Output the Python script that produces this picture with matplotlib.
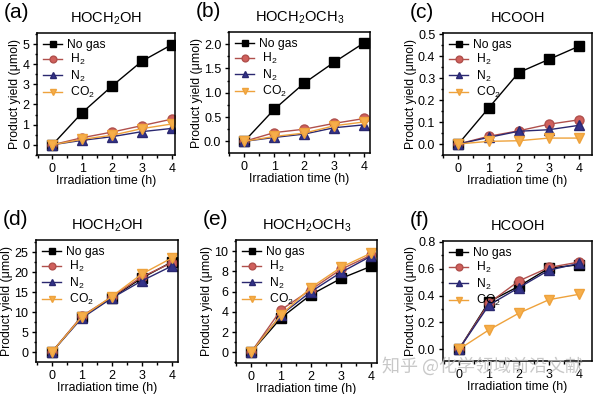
import numpy as np
import matplotlib.pyplot as plt
from matplotlib.ticker import AutoMinorLocator

plt.rcParams['font.family'] = ['Liberation Sans', 'DejaVu Sans']
plt.rcParams['mathtext.fontset'] = 'custom'
plt.rcParams['mathtext.rm'] = 'Liberation Sans'

# Irradiation time (h)
hours = [0, 1, 2, 3, 4]
gases = ['No gas', ' H$_2$', ' N$_2$', ' CO$_2$']

# (a) HOCH2OH
a_nogas = [0, 1.60, 2.92, 4.15, 4.97]
a_h2 = [0, 0.35, 0.63, 0.95, 1.27]
a_n2 = [0, 0.22, 0.40, 0.65, 0.81]
a_co2 = [0, 0.27, 0.47, 0.80, 1.03]

# (b) HOCH2OCH3
b_nogas = [0, 0.66, 1.20, 1.63, 2.03]
b_h2 = [0, 0.18, 0.25, 0.37, 0.47]
b_n2 = [0, 0.08, 0.15, 0.28, 0.34]
b_co2 = [0, 0.10, 0.17, 0.32, 0.40]

# (c) HCOOH
c_nogas = [0, 0.163, 0.325, 0.385, 0.445]
c_h2 = [0, 0.035, 0.060, 0.090, 0.110]
c_n2 = [0, 0.030, 0.058, 0.065, 0.085]
c_co2 = [0, 0.012, 0.015, 0.027, 0.027]

# (d) HOCH2OH
d_nogas = [0, 8.8, 13.6, 18.5, 22.5]
d_h2 = [0, 9.0, 13.8, 18.8, 22.3]
d_n2 = [0, 8.5, 13.5, 17.8, 21.5]
d_co2 = [0, 8.8, 13.9, 19.5, 23.5]

# (e) HOCH2OCH3
e_nogas = [0, 3.4, 5.7, 7.3, 8.5]
e_h2 = [0, 4.2, 6.2, 8.2, 9.6]
e_n2 = [0, 3.7, 6.0, 7.9, 9.5]
e_co2 = [0, 3.7, 6.4, 8.4, 9.8]

# (f) HCOOH
f_nogas = [0, 0.355, 0.470, 0.605, 0.630]
f_h2 = [0, 0.345, 0.510, 0.610, 0.650]
f_n2 = [0, 0.330, 0.460, 0.590, 0.640]
f_co2 = [0, 0.145, 0.270, 0.370, 0.410]

panel_labels = ['(a)', '(b)', '(c)', '(d)', '(e)', '(f)']
titles = ['HOCH$_2$OH', 'HOCH$_2$OCH$_3$', 'HCOOH',
          'HOCH$_2$OH', 'HOCH$_2$OCH$_3$', 'HCOOH']
series = [
    [a_nogas, a_h2, a_n2, a_co2],
    [b_nogas, b_h2, b_n2, b_co2],
    [c_nogas, c_h2, c_n2, c_co2],
    [d_nogas, d_h2, d_n2, d_co2],
    [e_nogas, e_h2, e_n2, e_co2],
    [f_nogas, f_h2, f_n2, f_co2],
]

# axes placement in pixels: left, top, right, bottom
boxes = [(37, 33, 175, 155), (229, 32, 370, 153), (443, 33, 592, 155),
         (36, 240, 178, 362), (236, 240, 377, 363), (443, 241, 592, 361)]
xlims = [(-0.52, 4.11), (-0.51, 4.19), (-0.51, 4.43),
         (-0.52, 4.21), (-0.50, 4.20), (-0.53, 4.43)]
ylims = [(-0.51, 5.55), (-0.24, 2.25), (-0.05, 0.505),
         (-2.4, 28.0), (-1.05, 11.1), (-0.087, 0.807)]
yticks = [np.arange(0, 5.1, 1), np.arange(0, 2.01, 0.5), np.arange(0, 0.51, 0.1),
          np.arange(0, 26, 5), np.arange(0, 11, 2), np.arange(0, 0.81, 0.2)]
yfmt = ['%d', '%.1f', '%.1f', '%d', '%d', '%.1f']

markers = ['s', 'o', '^', 'v']
line_colors = ['black', '#b0504c', '#2a2870', '#eea23c']
face_colors = ['black', '#d0605c', '#34338a', '#f6ae4a']

W, H = 600, 394
fig = plt.figure(figsize=(6, 3.94), dpi=100)

for i in range(6):
    l, t, r, b = boxes[i]
    ax = fig.add_axes([l / W, (H - b) / H, (r - l) / W, (b - t) / H])
    for k in range(4):
        ax.plot(hours, series[i][k], marker=markers[k], color=line_colors[k],
                mfc=face_colors[k], mec=line_colors[k], ms=6.5, lw=1.0,
                label=gases[k])
    ax.set_xlim(*xlims[i])
    ax.set_ylim(*ylims[i])
    ax.set_xticks(hours)
    ax.set_yticks(yticks[i])
    ax.set_yticklabels([yfmt[i] % v for v in yticks[i]])
    ax.xaxis.set_minor_locator(AutoMinorLocator(2))
    ax.yaxis.set_minor_locator(AutoMinorLocator(2))
    ax.tick_params(which='both', direction='out', labelsize=9, width=1)
    ax.tick_params(which='major', length=3, pad=2.5)
    ax.tick_params(which='minor', length=1.8)
    for s in ax.spines.values():
        s.set_linewidth(1.1)
    ax.set_xlabel('Irradiation time (h)', fontsize=8.8, labelpad=0)
    ax.set_ylabel('Product yield (\u03bcmol)', fontsize=8.8, labelpad=1)
    ax.set_title(titles[i], fontsize=10.5, pad=8)
    ax.legend(loc='upper left', frameon=False, fontsize=8.7, handlelength=1.6,
              handletextpad=0.4, labelspacing=0.1, borderaxespad=0.2,
              borderpad=0.3, markerscale=0.75)
    fig.text((l - 33) / W, (H - t + 30) / H, panel_labels[i], fontsize=15,
             va='top', ha='left')

fig.text(382 / W, (H - 366) / H, '知乎 @化学领域前沿文献', fontsize=13,
         color='#bbbbbb', alpha=0.8, va='center', ha='left',
         family=['Noto Sans CJK SC', 'DejaVu Sans'])

fig.savefig('out.png', dpi=100)
